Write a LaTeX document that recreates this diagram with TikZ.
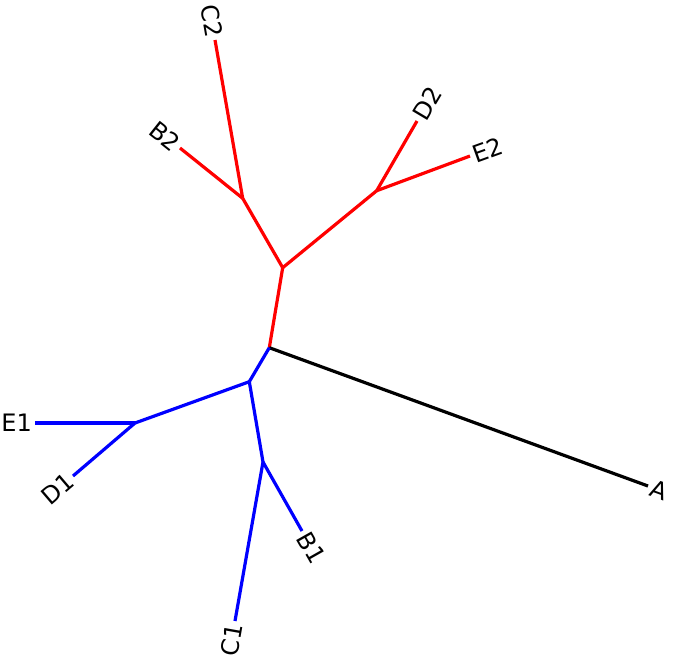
\documentclass[tikz,border=0pt]{standalone}
\usepackage{fontspec}
\setmainfont{DejaVu Sans}
\begin{document}
\begin{tikzpicture}[x=1pt,y=-1pt,
  br/.style={line width=3.2pt},
  redbr/.style={br,draw={rgb,255:red,255;green,0;blue,0}},
  bluebr/.style={br,draw={rgb,255:red,0;green,0;blue,255}},
  blackbr/.style={br,draw=black},
  lblR/.style={anchor=west,inner sep=3pt,font=\fontsize{24}{29}\selectfont},
  lblL/.style={anchor=east,inner sep=3pt,font=\fontsize{24}{29}\selectfont}]
\useasboundingbox (0,0) rectangle (675,657);
% internal nodes
\coordinate (R) at (269.3,347.7);
\coordinate (Rr) at (282.7,267.7);
\coordinate (R1) at (242.7,198.3);
\coordinate (R2) at (376.7,190.7);
\coordinate (Bb) at (249.3,381.7);
\coordinate (B1n) at (135,423);
\coordinate (B2n) at (263,462);
% tips
\coordinate (tC2) at (215,40);
\coordinate (tB2) at (180,148);
\coordinate (tD2) at (417,121);
\coordinate (tE2) at (470,156);
\coordinate (tA) at (648,486);
\coordinate (tE1) at (35,423);
\coordinate (tD1) at (73,476);
\coordinate (tB1) at (302,531);
\coordinate (tC1) at (235,621);
% branches
\draw[redbr] (R) -- (Rr);
\draw[redbr] (Rr) -- (R1);
\draw[redbr] (Rr) -- (R2);
\draw[redbr] (R1) -- (tC2);
\draw[redbr] (R1) -- (tB2);
\draw[redbr] (R2) -- (tD2);
\draw[redbr] (R2) -- (tE2);
\draw[blackbr] (R) -- (tA);
\draw[bluebr] (R) -- (Bb);
\draw[bluebr] (Bb) -- (B1n);
\draw[bluebr] (Bb) -- (B2n);
\draw[bluebr] (B1n) -- (tE1);
\draw[bluebr] (B1n) -- (tD1);
\draw[bluebr] (B2n) -- (tB1);
\draw[bluebr] (B2n) -- (tC1);
% labels
\node[lblL,rotate=-80] (lC2) at (tC2) {C2};
\node[lblL,rotate=-38.4] (lB2) at (tB2) {B2};
\node[lblR,rotate=59.3] (lD2) at (tD2) {D2};
\node[lblR,rotate=19.9] (lE2) at (tE2) {E2};
\node[lblR,rotate=-20] (lA) at (tA) {A};
\node[lblL] (lE1) at (tE1) {E1};
\node[lblL,rotate=40.5] (lD1) at (tD1) {D1};
\node[lblR,rotate=-60.5] (lB1) at (tB1) {B1};
\node[lblL,rotate=80] (lC1) at (tC1) {C1};
\end{tikzpicture}
\end{document}
